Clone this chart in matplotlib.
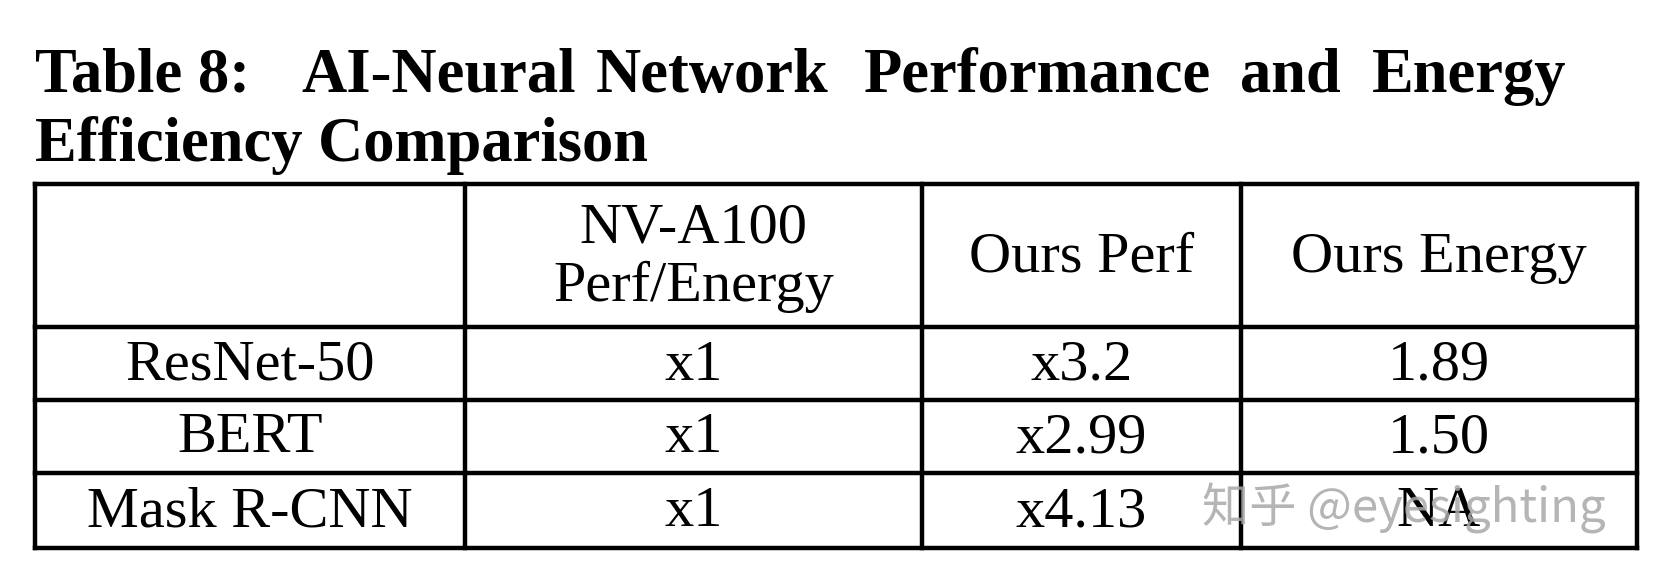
import matplotlib
matplotlib.use("Agg")
import matplotlib.pyplot as plt

W, H = 1668, 586
title_words1 = ["Table 8:", "AI-Neural", "Network", "Performance", "and", "Energy"]
title_x1 = [35, 301, 596, 864, 1240, 1372]
title_line2 = "Efficiency Comparison"
header = ["", "NV-A100\nPerf/Energy", "Ours Perf", "Ours Energy"]
rows = [["ResNet-50", "x1", "x3.2", "1.89"],
        ["BERT", "x1", "x2.99", "1.50"],
        ["Mask R-CNN", "x1", "x4.13", "NA"]]
col_x = [35, 465, 922, 1241, 1637]
row_y = [184, 327, 400, 473, 548]

fig = plt.figure(figsize=(W/100, H/100), dpi=100)
ax = fig.add_axes([0, 0, 1, 1])
ax.set_xlim(0, W); ax.set_ylim(H, 0); ax.axis("off")
serif = "Liberation Serif"
for w, x in zip(title_words1, title_x1):
    ax.text(x, 92, w, fontsize=45, fontweight="bold", family=serif, va="baseline", ha="left")
ax.text(35, 161, title_line2, fontsize=45, fontweight="bold", family=serif, va="baseline", ha="left")

for x in col_x:
    ax.plot([x, x], [row_y[0], row_y[-1]], color="black", lw=3.2, solid_capstyle="projecting")
for y in row_y:
    ax.plot([col_x[0], col_x[-1]], [y, y], color="black", lw=3.2, solid_capstyle="projecting")

table = [header] + rows
for r, row in enumerate(table):
    yc = (row_y[r] + row_y[r+1]) / 2
    for c, txt in enumerate(row):
        xc = (col_x[c] + col_x[c+1]) / 2
        ax.text(xc, yc + 2, txt, fontsize=42, family=serif, ha="center", va="center", linespacing=1.15)

ax.text(1202, 508, "知乎 @eyesighting", fontsize=34, color="#a8a8a8", alpha=0.85,
        family=["Noto Sans CJK SC", "DejaVu Sans"], ha="left", va="center")
fig.savefig("out.png", dpi=100)
